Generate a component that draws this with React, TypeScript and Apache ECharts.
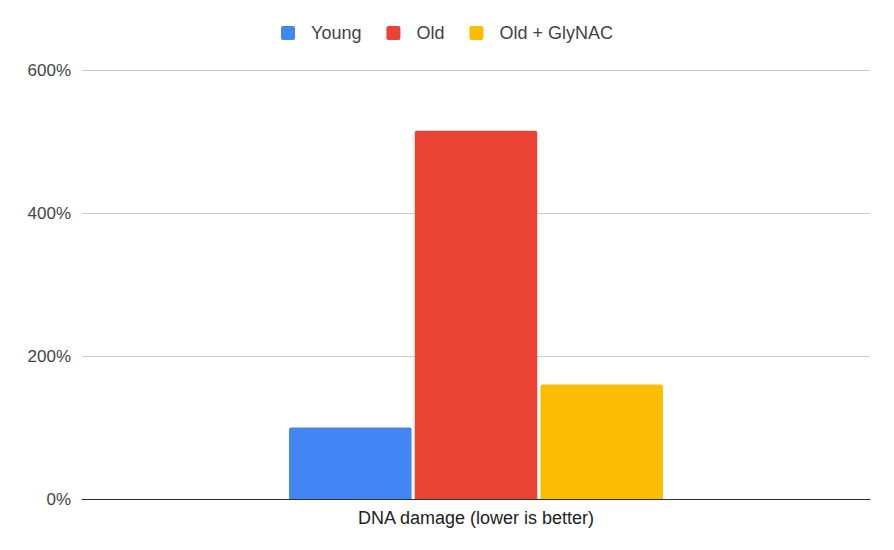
import React, { useEffect, useRef } from "react";
import * as echarts from "echarts";

const categories = ["DNA damage (lower is better)"];
const seriesNames = ["Young", "Old", "Old + GlyNAC"];
const youngValues = [100];
const oldValues = [515];
const glynacValues = [160];
const colors = ["#4285F4", "#EA4335", "#FBBC04"];

export default function App() {
  const ref = useRef<HTMLDivElement>(null);
  useEffect(() => {
    if (!ref.current) return;
    const chart = echarts.init(ref.current, null, { renderer: "svg" });
    const data = [youngValues, oldValues, glynacValues];
    chart.setOption({
      animation: false,
      textStyle: { fontFamily: "'Liberation Sans', Arial, sans-serif" },
      legend: {
        top: 19,
        left: "center",
        itemWidth: 14,
        itemHeight: 14,
        itemGap: 25,
        icon: "path://M2,0 H12 A2,2 0 0 1 14,2 V12 A2,2 0 0 1 12,14 H2 A2,2 0 0 1 0,12 V2 A2,2 0 0 1 2,0 Z",
        textStyle: { fontSize: 18, color: "#444", padding: [0, 0, 0, 11] },
        data: seriesNames,
      },
      grid: { left: 82, right: 24, top: 70, bottom: 51, containLabel: false },
      xAxis: {
        type: "category",
        data: categories,
        axisLine: { lineStyle: { color: "#333", width: 1 } },
        axisTick: { show: false },
        axisLabel: { fontSize: 18, color: "#222", margin: 10 },
      },
      yAxis: {
        type: "value",
        min: 0,
        max: 600,
        interval: 200,
        axisLine: { show: false },
        axisTick: { show: false },
        axisLabel: { fontSize: 17, color: "#444", margin: 11, formatter: "{value}%" },
        splitLine: { lineStyle: { color: "#cccccc", width: 1 } },
      },
      series: seriesNames.map((name, i) => ({
        name,
        type: "bar",
        data: data[i],
        barWidth: 122.5,
        barGap: "2.6%",
        itemStyle: { color: colors[i], borderRadius: [2, 2, 0, 0] },
      })),
    });
    return () => chart.dispose();
  }, []);
  return <div ref={ref} style={{ width: 894, height: 550, margin: -8 }} />;
}
